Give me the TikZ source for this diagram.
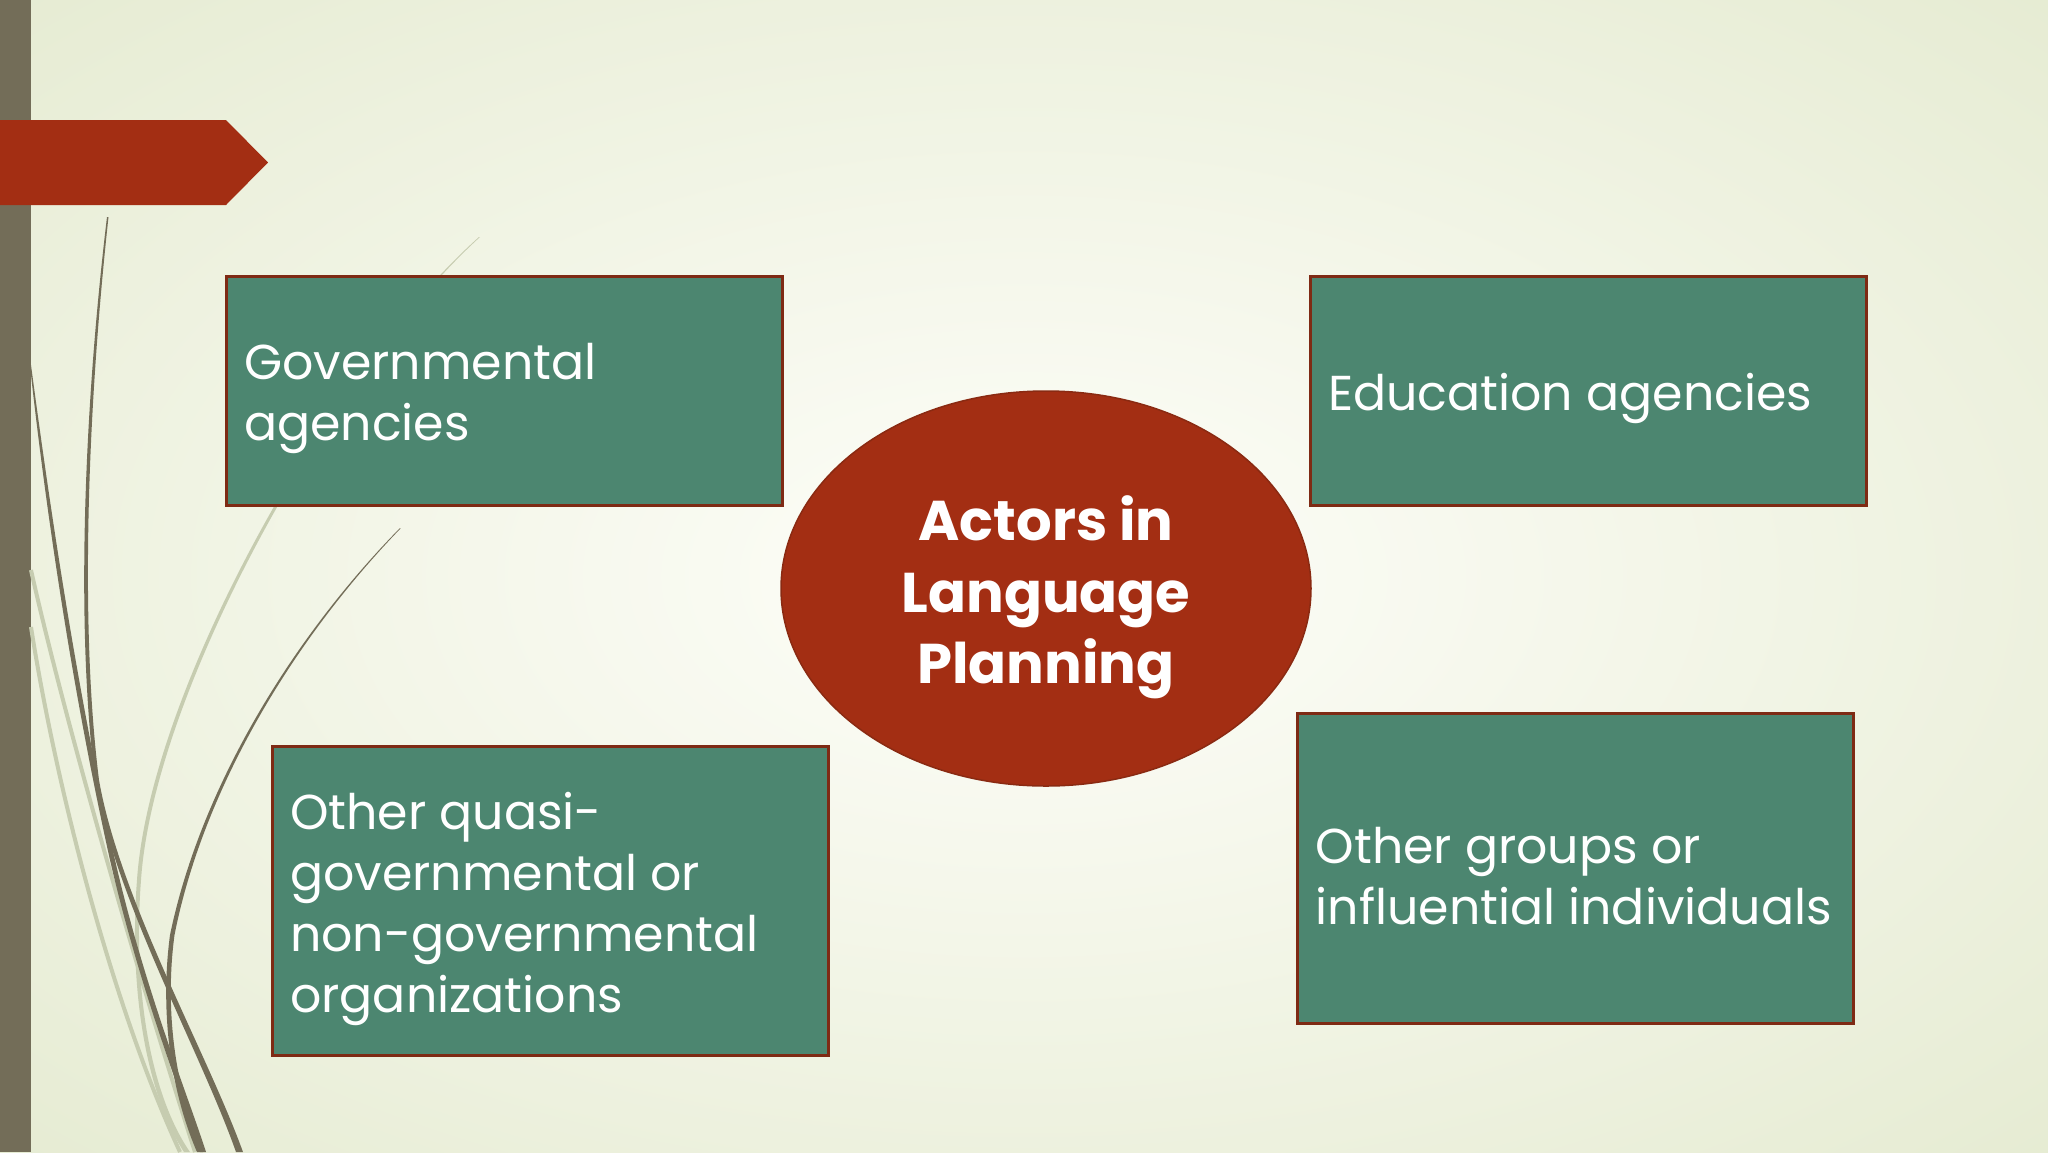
\documentclass[tikz,border=0pt]{standalone}
\usepackage{fontspec}
\setmainfont{Poppins}
\usetikzlibrary{shapes.geometric}
\definecolor{bgin}{HTML}{FAFBF3}
\definecolor{bgout}{HTML}{DCE4C3}
\definecolor{barcol}{HTML}{736D58}
\definecolor{darkline}{HTML}{736D58}
\definecolor{lightline}{HTML}{C6CCB0}
\definecolor{rust}{HTML}{A32E13}
\definecolor{rustline}{HTML}{8A2A12}
\definecolor{boxfill}{HTML}{4C8670}
\definecolor{boxline}{HTML}{7E2A14}
\pgfdeclareradialshading{bgshade}{\pgfpoint{0bp}{0bp}}{color(0bp)=(bgin); color(6bp)=(bgin); color(50bp)=(bgout); color(72bp)=(bgout)}
\begin{document}
\begin{tikzpicture}[x=1pt,y=-1pt,
  actorbox/.style={draw=boxline, line width=3pt, fill=boxfill, inner sep=0pt, minimum width=556pt},
  boxtext/.style={anchor=west, text=white, align=left, inner xsep=19.5pt, inner ysep=0pt, font={\fontsize{49}{61}\selectfont}},
  centreoval/.style={ellipse, draw=rustline, line width=1.5pt, fill=rust, inner sep=0pt, minimum width=530pt, minimum height=395pt},
  titletext/.style={text=white, align=center, font=\fontsize{56}{71.7}\selectfont\bfseries},
  darkfill/.style={fill=darkline},
  lightstroke/.style={draw=lightline, line width=4pt}]
\useasboundingbox (0,0) rectangle (2048,1152);
% background
\shade[shading=bgshade] (0,0) rectangle (2048,1152);
% left bar
\fill[barcol] (0,0) rectangle (31,1152);
% light curves
\fill[lightline] (479,237) .. controls (330,370) and (150,690) .. (137,880) .. controls (128,1000) and (150,1100) .. (184,1152) -- (190,1152) .. controls (154,1100) and (132,1000) .. (141,880) .. controls (154,690) and (333,371) .. (480,237) -- cycle;
\draw[lightstroke] (31,570) .. controls (60,700) and (130,950) .. (195,1152);
\draw[lightstroke] (31,627) .. controls (55,780) and (110,1000) .. (180,1152);
% dark curves
\fill[darkfill] (107,217) .. controls (85,400) and (75,620) .. (95,780) .. controls (115,900) and (200,1050) .. (236,1152) -- (243,1152) .. controls (206,1050) and (120,900) .. (99,780) .. controls (79,620) and (88.5,400) .. (108.5,217) -- cycle;
\fill[darkfill] (31,375) .. controls (45,500) and (70,680) .. (110,860) .. controls (140,990) and (180,1090) .. (200,1152) -- (206,1152) .. controls (186,1090) and (145,990) .. (115,860) .. controls (75,680) and (49,500) .. (31,365) -- cycle;
\fill[darkfill] (400,528) .. controls (290,640) and (200,790) .. (170,935) .. controls (160,1010) and (170,1090) .. (197,1152) -- (203,1152) .. controls (175,1090) and (164.5,1010) .. (174.5,935) .. controls (203,790) and (292,641) .. (400.5,528.5) -- cycle;
% red arrow
\fill[rust] (0,120) -- (226,120) -- (268,162.5) -- (226,205) -- (0,205) -- cycle;
% boxes
\node[actorbox, minimum height=229pt] (gov) at (504,390.5) {};
\node[actorbox, minimum height=229pt] (edu) at (1588,390.5) {};
\node[actorbox, minimum height=309pt] (quasi) at (550,900.5) {};
\node[actorbox, minimum height=310pt] (groups) at (1575.5,868) {};
\node[boxtext] (govt) at ([yshift=-8pt]gov.west) {Governmental\\agencies};
\node[boxtext] (edut) at ([yshift=-8pt]edu.west) {Education agencies};
\node[boxtext] (quasit) at ([yshift=-8pt]quasi.west) {Other quasi-\\governmental or\\non-governmental\\organizations};
\node[boxtext] (groupst) at ([yshift=-8pt]groups.west) {Other groups or\\influential individuals};
% centre
\node[centreoval] (actors) at (1046,588.5) {};
\node[titletext] (title) at ([yshift=-9pt]actors.center) {Actors in\\Language\\Planning};
\end{tikzpicture}
\end{document}
